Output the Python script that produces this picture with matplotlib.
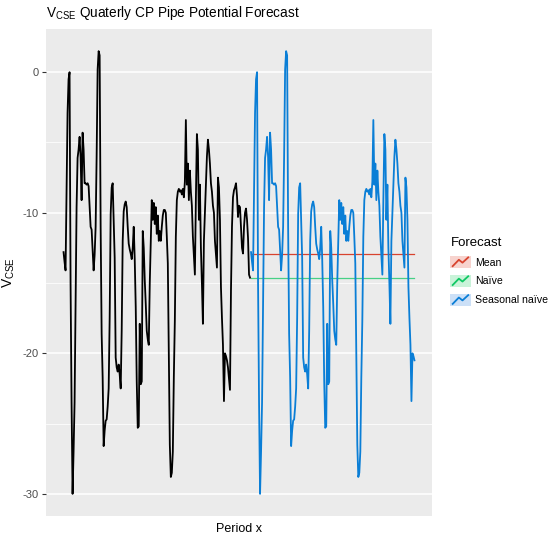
import matplotlib
matplotlib.use("Agg")
import matplotlib.pyplot as plt
from matplotlib.legend_handler import HandlerBase
from matplotlib.patches import Rectangle
from matplotlib.lines import Line2D
import numpy as np

# ---------------- data ----------------
history = [
    -12.8, -13.5, -14.1, -8.5, -2.9, -0.5, 0.0, -15.0, -23.5, -30.0,
    -27.0, -23.5, -16.8, -9.6, -6.1, -5.5, -4.6, -6.0, -9.1, -4.3,
    -5.5, -7.9, -7.9, -8.0, -7.9, -8.1, -9.5, -11.0, -11.2, -12.7,
    -14.1, -13.0, -11.0, -6.0, 0.2, 1.5, 1.2, -11.0, -18.6, -21.7,
    -26.6, -25.5, -24.8, -24.7, -23.8, -22.5, -17.5, -10.1, -8.2, -7.9,
    -10.5, -13.2, -20.3, -21.0, -21.3, -20.8, -21.5, -22.5, -18.4, -12.0,
    -9.9, -9.4, -9.2, -9.6, -11.0, -12.2, -12.6, -12.9, -13.3, -12.5,
    -11.0, -13.3, -16.7, -22.0, -25.3, -25.2, -17.9, -22.2, -22.0, -11.3,
    -12.5, -14.8, -16.5, -18.4, -19.0, -19.4, -15.0, -12.0, -9.1, -10.5,
    -9.3, -10.8, -9.6, -11.5, -10.2, -12.0, -11.3, -12.0, -11.0, -10.2,
    -9.8, -9.8, -10.0, -11.7, -13.6, -20.0, -26.5, -28.8, -28.5, -27.0,
    -21.7, -17.7, -11.7, -9.1, -8.5, -8.3, -8.5, -8.4, -8.7, -8.3,
    -8.9, -7.8, -3.4, -8.0, -6.5, -9.1, -7.0, -8.5, -9.5, -11.7,
    -13.0, -14.4, -9.0, -4.4, -5.5, -10.5, -8.0, -12.5, -15.0, -17.9,
    -12.0, -10.0, -7.9, -6.0, -4.8, -5.5, -6.5, -7.9, -8.5, -9.5,
    -10.0, -12.0, -13.0, -13.9, -7.5, -8.2, -10.5, -15.3, -17.5, -19.4,
    -23.4, -20.0, -20.2, -20.5, -21.0, -21.8, -22.6, -15.5, -11.0, -8.9,
    -8.4, -8.2, -7.9, -8.8, -10.3, -9.5, -9.6, -11.0, -12.5, -12.9,
    -11.0, -10.0, -9.7, -10.5, -11.8, -14.4, -14.62,
]
horizon = 164
mean_forecast = -12.95
naive_forecast = -14.62

series_names = ["Mean", "Naïve", "Seasonal naïve"]
series_colors = ["#D8432E", "#10C864", "#0A7ED6"]
fill_colors = ["#F7D3CE", "#C9F3D9", "#CCE0F7"]
y_ticks = [-30, -20, -10, 0]
y_minor = [-25, -15, -5]
title_text = r"$\mathregular{V_{CSE}}$ Quaterly CP Pipe Potential Forecast"
y_label = r"$\mathregular{V_{CSE}}$"
x_label = "Period x"
legend_title = "Forecast"

# ---------------- derived series ----------------
hist = np.array(history)
n = len(hist)
t_hist = np.arange(n)
t_fc = np.arange(n, n + horizon)
seasonal = hist[:horizon]           # seasonal naive, period = length of history
mean_line = np.full(horizon, mean_forecast)
naive_line = np.full(horizon, naive_forecast)

# ---------------- style ----------------
plt.rcParams["font.family"] = ["Liberation Sans", "DejaVu Sans"]
plt.rcParams["mathtext.fontset"] = "custom"
plt.rcParams["mathtext.rm"] = "Liberation Sans"
plt.rcParams["mathtext.it"] = "Liberation Sans:italic"
plt.rcParams["mathtext.bf"] = "Liberation Sans:bold"

fig = plt.figure(figsize=(5.5, 5.4), dpi=100)
ax = fig.add_axes([46 / 550, 1 - 516 / 540, (432 - 46) / 550, (516 - 29) / 540])
ax.set_facecolor("#EBEBEB")
for s in ax.spines.values():
    s.set_visible(False)

for v in y_ticks:
    ax.axhline(v, color="white", lw=1.1, zorder=0)
for v in y_minor:
    ax.axhline(v, color="white", lw=0.55, zorder=0)

ax.plot(t_hist, hist, color="black", lw=1.3, zorder=3)
ax.plot(t_fc, mean_line, color=series_colors[0], lw=0.9, zorder=2)
ax.plot(t_fc, naive_line, color=series_colors[1], lw=0.9, alpha=0.75, zorder=2)
ax.plot(t_fc, seasonal, color=series_colors[2], lw=1.3, zorder=4)

total = n + horizon - 1
ax.set_xlim(-0.05 * total, total * 1.05)
ymax, ymin = max(hist.max(), 1.5), hist.min()
rng = ymax - ymin
ax.set_ylim(ymin - 0.05 * rng, ymax + 0.05 * rng)

ax.set_xticks([])
ax.set_yticks(y_ticks)
ax.set_yticklabels([str(v) for v in y_ticks])
ax.tick_params(axis="y", length=3, width=0.8, color="#333333",
               labelcolor="#4D4D4D", labelsize=8, pad=2)

ax.set_xlabel(x_label, fontsize=9, labelpad=5)
ax.set_ylabel(y_label, fontsize=10, labelpad=4)
fig.text(46 / 550, 1 - 13 / 540, title_text, fontsize=9.8, ha="left", va="center")


# ---------------- legend ----------------
class KeyHandler(HandlerBase):
    def __init__(self, fill):
        super().__init__()
        self.fill = fill

    def create_artists(self, legend, orig_handle, xdescent, ydescent,
                       width, height, fontsize, trans):
        x0, y0 = -xdescent, -ydescent
        rect = Rectangle((x0, y0), width, height, facecolor=self.fill,
                         edgecolor="none", transform=trans)
        xs = [x0 + 0.08 * width, x0 + 0.42 * width, x0 + 0.6 * width, x0 + 0.92 * width]
        ys = [y0 + 0.12 * height, y0 + 0.68 * height, y0 + 0.45 * height, y0 + 0.92 * height]
        line = Line2D(xs, ys, color=orig_handle.get_color(), lw=1.3,
                      solid_capstyle="butt", transform=trans)
        return [rect, line]


handles = [Line2D([], [], color=c) for c in series_colors]
hmap = {h: KeyHandler(f) for h, f in zip(handles, fill_colors)}
leg = fig.legend(handles, series_names, handler_map=hmap, title=legend_title,
                 loc="upper left", bbox_to_anchor=(442 / 550, 1 - 229 / 540),
                 frameon=False, fontsize=7.6, title_fontsize=9.5,
                 handlelength=1.9, handleheight=1.45, labelspacing=0.6,
                 handletextpad=0.45, borderpad=0.3)
leg._legend_box.align = "left"

fig.savefig("out.png", dpi=100)
